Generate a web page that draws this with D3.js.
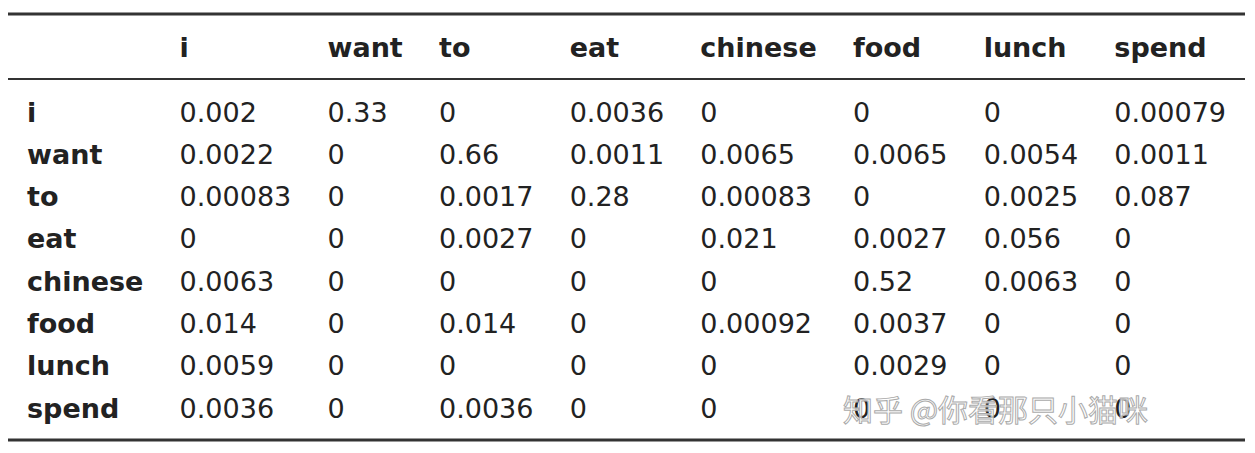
<!DOCTYPE html>
<html><head><meta charset="utf-8">
<script src="https://cdn.jsdelivr.net/npm/d3@7"></script>
<style>body{margin:0;background:#fff}</style></head>
<body><svg id="c" width="1255" height="453"></svg>
<script>
const columns = ["i","want","to","eat","chinese","food","lunch","spend"];
const rows = ["i","want","to","eat","chinese","food","lunch","spend"];
const values = [
 ["0.002","0.33","0","0.0036","0","0","0","0.00079"],
 ["0.0022","0","0.66","0.0011","0.0065","0.0065","0.0054","0.0011"],
 ["0.00083","0","0.0017","0.28","0.00083","0","0.0025","0.087"],
 ["0","0","0.0027","0","0.021","0.0027","0.056","0"],
 ["0.0063","0","0","0","0","0.52","0.0063","0"],
 ["0.014","0","0.014","0","0.00092","0.0037","0","0"],
 ["0.0059","0","0","0","0","0.0029","0","0"],
 ["0.0036","0","0.0036","0","0","0","0","0"]
];
const svg = d3.select("#c");
const font = "'DejaVu Sans', sans-serif", fs = 27, x0 = 27, xEnd = 1226;
const m = svg.append("text").attr("font-family",font).attr("font-size",fs);
function w(t,b){m.attr("font-weight",b?"bold":"normal").text(t);return m.node().getComputedTextLength();}
const labelW = d3.max(rows, r=>w(r,true));
const colW = columns.map((c,j)=>Math.max(w(c,true), d3.max(values,row=>w(row[j],false))));
m.remove();
const gap = (xEnd - x0 - labelW - d3.sum(colW)) / columns.length;
const starts=[x0]; let acc=x0+labelW+gap;
colW.forEach(cw=>{starts.push(acc); acc+=cw+gap;});
const x = d3.scaleOrdinal().domain(["__label"].concat(columns)).range(starts);
const y = d3.scalePoint().domain(rows).range([112,408]);
const yHead = 47;
svg.append("line").attr("x1",8).attr("x2",1245).attr("y1",14).attr("y2",14).attr("stroke","#333").attr("stroke-width",3);
svg.append("line").attr("x1",8).attr("x2",1245).attr("y1",79).attr("y2",79).attr("stroke","#333").attr("stroke-width",2);
svg.append("line").attr("x1",8).attr("x2",1245).attr("y1",440).attr("y2",440).attr("stroke","#333").attr("stroke-width",3);
const t = (sel)=>sel.attr("font-family",font).attr("font-size",fs).attr("fill","#222").attr("dominant-baseline","central");
svg.selectAll(".h").data(columns).join("text").attr("class","h").call(t).attr("font-weight","bold")
  .attr("x",d=>x(d)).attr("y",yHead).text(d=>d);
svg.selectAll(".r").data(rows).join("text").attr("class","r").call(t).attr("font-weight","bold")
  .attr("x",x("__label")).attr("y",d=>y(d)).text(d=>d);
rows.forEach((r,i)=>{
  svg.selectAll(".v"+i).data(values[i]).join("text").call(t)
    .attr("x",(d,j)=>x(columns[j])).attr("y",y(r)).text(d=>d);
});
svg.append("text").attr("x",843).attr("y",y("spend")).attr("dominant-baseline","central")
  .attr("font-family","'Noto Sans CJK SC'").attr("font-size",30).attr("fill","#fff").attr("fill-opacity",0.75)
  .attr("stroke","#aaa").attr("stroke-width",1).text("知乎 @你看那只小猫咪");
</script></body></html>
